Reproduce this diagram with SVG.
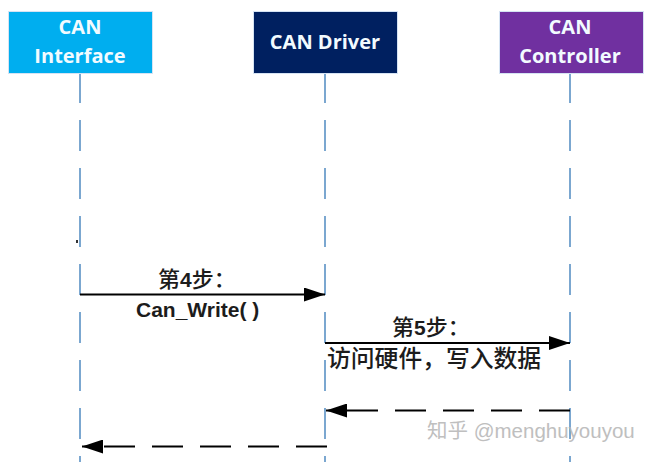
<svg xmlns="http://www.w3.org/2000/svg" width="653" height="463" viewBox="0 0 653 463">
<style>
.box{stroke:#d5e3f3;stroke-width:1}
.life{stroke:#7ba7d0;stroke-width:2;stroke-dasharray:31 17;fill:none}
.msg{stroke:#000;stroke-width:2;fill:none}
.dash{stroke-dasharray:31 17}
.nt{font-family:"Open Sans","Liberation Sans",sans-serif;font-size:20px;font-weight:700;fill:#f2fbff;text-anchor:middle}
.lb{font-family:"Liberation Sans","Noto Sans CJK SC",sans-serif;font-size:21px;font-weight:700;fill:#1c1c1c}
.cj{font-family:"Noto Sans CJK SC",sans-serif;font-size:22px;font-weight:500;fill:#1c1c1c}
.cl{font-family:"Noto Sans CJK SC",sans-serif;font-size:23.800px;font-weight:500;fill:#1c1c1c}
.wm{font-family:"Liberation Sans","Noto Sans CJK SC",sans-serif;font-size:20.500px;fill:#b4b4b4;opacity:.85}
</style>
<defs>
<marker id="ah" markerUnits="userSpaceOnUse" markerWidth="22" markerHeight="14" refX="21" refY="7" orient="auto"><path d="M0 0L21 7L0 14Z" fill="#000"/></marker>
</defs>
<rect width="653" height="463" fill="#fff"/>
<g id="connectors">
<line class="life" x1="80" y1="72" x2="80" y2="462"/>
<line class="life" x1="325" y1="72" x2="325" y2="462"/>
<line class="life" x1="570" y1="72" x2="570" y2="462"/>
<line class="msg" x1="80" y1="294.500" x2="325" y2="294.500" marker-end="url(#ah)"/>
<line class="msg" x1="325" y1="343" x2="570" y2="343" marker-end="url(#ah)"/>
<line class="msg dash" x1="570" y1="410.500" x2="326" y2="410.500" marker-end="url(#ah)"/>
<line class="msg dash" x1="327" y1="446.500" x2="82" y2="446.500" marker-end="url(#ah)"/>
<path d="M76 240h2v3h-2z" fill="#333"/>
</g>
<g id="can-interface">
<rect class="box" x="8.500" y="11.500" width="144" height="62" fill="#00aeef"/>
<text class="nt" x="80" y="34">CAN</text>
<text class="nt" x="80" y="63">Interface</text>
</g>
<g id="can-driver">
<rect class="box" x="253.500" y="11.500" width="144" height="62" fill="#002060"/>
<text class="nt" x="325" y="49">CAN Driver</text>
</g>
<g id="can-controller">
<rect class="box" x="499.500" y="11.500" width="144" height="62" fill="#7030a0"/>
<text class="nt" x="570" y="34">CAN</text>
<text class="nt" x="570" y="63">Controller</text>
</g>
<g id="labels">
<text class="cj" x="158" y="287">第<tspan class="lb">4</tspan>步：</text>
<text class="lb" x="136" y="317">Can_Write( )</text>
<text class="cj" x="392" y="335">第<tspan class="lb">5</tspan>步：</text>
<text class="cl" x="327" y="367">访问硬件，写入数据</text>
<text class="wm" x="427" y="438">知乎 @menghuyouyou</text>
</g>
</svg>
